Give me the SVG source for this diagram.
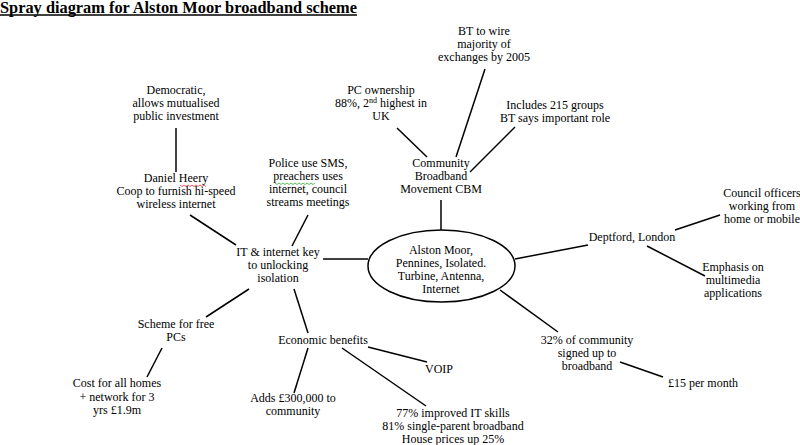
<svg xmlns="http://www.w3.org/2000/svg" width="800" height="445" viewBox="0 0 800 445">
<style>
text{font-family:"Liberation Serif","Times New Roman",serif;font-size:12px;fill:#000;text-anchor:middle}
.t{font-size:16px;font-weight:bold;text-anchor:start}
line,ellipse{stroke:#000;stroke-width:1.5;fill:none}
.sq{fill:none;stroke-width:0.8}
</style>
<rect width="800" height="445" fill="#fff"/>
<text class="t" x="0" y="13" textLength="357" lengthAdjust="spacingAndGlyphs">Spray diagram for Alston Moor broadband scheme</text>
<line x1="0" y1="15" x2="357" y2="15" stroke-width="1"/>
<g id="connectors">
<line x1="176" y1="128" x2="176" y2="172"/>
<line x1="190" y1="215" x2="236" y2="245"/>
<line x1="308" y1="215" x2="292" y2="246"/>
<line x1="485" y1="69" x2="456" y2="157"/>
<line x1="397" y1="128" x2="427" y2="157"/>
<line x1="515" y1="127" x2="470" y2="172"/>
<line x1="441" y1="200" x2="441" y2="230"/>
<line x1="323" y1="259" x2="368" y2="259"/>
<line x1="515" y1="259" x2="588" y2="245"/>
<line x1="675" y1="230" x2="720" y2="215"/>
<line x1="647" y1="246" x2="705" y2="276"/>
<line x1="500" y1="290" x2="558" y2="332"/>
<line x1="620" y1="362" x2="663" y2="377"/>
<line x1="249" y1="289" x2="206" y2="317"/>
<line x1="162" y1="348" x2="147" y2="377"/>
<line x1="294" y1="289" x2="308" y2="333"/>
<line x1="308" y1="348" x2="294" y2="393"/>
<line x1="368" y1="347" x2="427" y2="362"/>
<line x1="342" y1="348" x2="426" y2="406"/>
</g>
<g id="center"><ellipse cx="441.5" cy="266" rx="73.5" ry="36"/>
<text x="441" y="254">Alston Moor,</text><text x="441" y="267">Pennines, Isolated.</text><text x="441" y="280">Turbine, Antenna,</text><text x="441" y="293">Internet</text></g>
<g id="democratic"><text x="176" y="94">Democratic,</text><text x="176" y="107">allows mutualised</text><text x="176" y="120">public investment</text></g>
<g id="heery"><text x="176" y="182">Daniel Heery</text><text x="176" y="195">Coop to furnish hi-speed</text><text x="176" y="208">wireless internet</text>
<path class="sq" stroke="#d33" d="M180 185 l2 1.5 l2 -1.5 l2 1.5 l2 -1.5 l2 1.5 l2 -1.5 l2 1.5 l2 -1.5 l2 1.5 l2 -1.5 l2 1.5 l2 -1.5 l2 1.5"/></g>
<g id="police"><text x="308" y="167">Police use SMS,</text><text x="308" y="180">preachers uses</text><text x="308" y="193">internet, council</text><text x="308" y="206">streams meetings</text>
<path class="sq" stroke="#3a3" d="M275 183 l2 1.5 l2 -1.5 l2 1.5 l2 -1.5 l2 1.5 l2 -1.5 l2 1.5 l2 -1.5 l2 1.5 l2 -1.5 l2 1.5 l2 -1.5 l2 1.5 l2 -1.5 l2 1.5 l2 -1.5 l2 1.5 l2 -1.5 l2 1.5 l2 -1.5"/></g>
<g id="itkey"><text x="278" y="256">IT &amp; internet key</text><text x="278" y="269">to unlocking</text><text x="278" y="282">isolation</text></g>
<g id="bt"><text x="484" y="35">BT to wire</text><text x="484" y="48">majority of</text><text x="484" y="61">exchanges by 2005</text></g>
<g id="pc"><text x="381" y="94">PC ownership</text><text x="381" y="107">88%, 2<tspan font-size="8" dy="-4">nd</tspan><tspan dy="4"> highest in</tspan></text><text x="381" y="120">UK</text></g>
<g id="includes"><text x="555" y="109">Includes 215 groups</text><text x="555" y="122">BT says important role</text></g>
<g id="cbm"><text x="441" y="167">Community</text><text x="441" y="180">Broadband</text><text x="441" y="193">Movement CBM</text></g>
<g id="council"><text x="762" y="197">Council officers</text><text x="762" y="210">working from</text><text x="762" y="223">home or mobile</text></g>
<g id="deptford"><text x="632" y="241">Deptford, London</text></g>
<g id="emphasis"><text x="733" y="271">Emphasis on</text><text x="733" y="284">multimedia</text><text x="733" y="297">applications</text></g>
<g id="signed"><text x="587" y="344">32% of community</text><text x="587" y="357">signed up to</text><text x="587" y="370">broadband</text></g>
<g id="fifteen"><text x="703" y="387">£15 per month</text></g>
<g id="scheme"><text x="176" y="328">Scheme for free</text><text x="176" y="341">PCs</text></g>
<g id="cost"><text x="117" y="387">Cost for all homes</text><text x="117" y="401">+ network for 3</text><text x="117" y="414">yrs £1.9m</text></g>
<g id="econ"><text x="323" y="344">Economic benefits</text></g>
<g id="adds"><text x="293" y="402">Adds £300,000 to</text><text x="293" y="415">community</text></g>
<g id="voip"><text x="439" y="373">VOIP</text></g>
<g id="stats"><text x="453" y="417">77% improved IT skills</text><text x="453" y="430">81% single-parent broadband</text><text x="453" y="443">House prices up 25%</text></g>
</svg>
